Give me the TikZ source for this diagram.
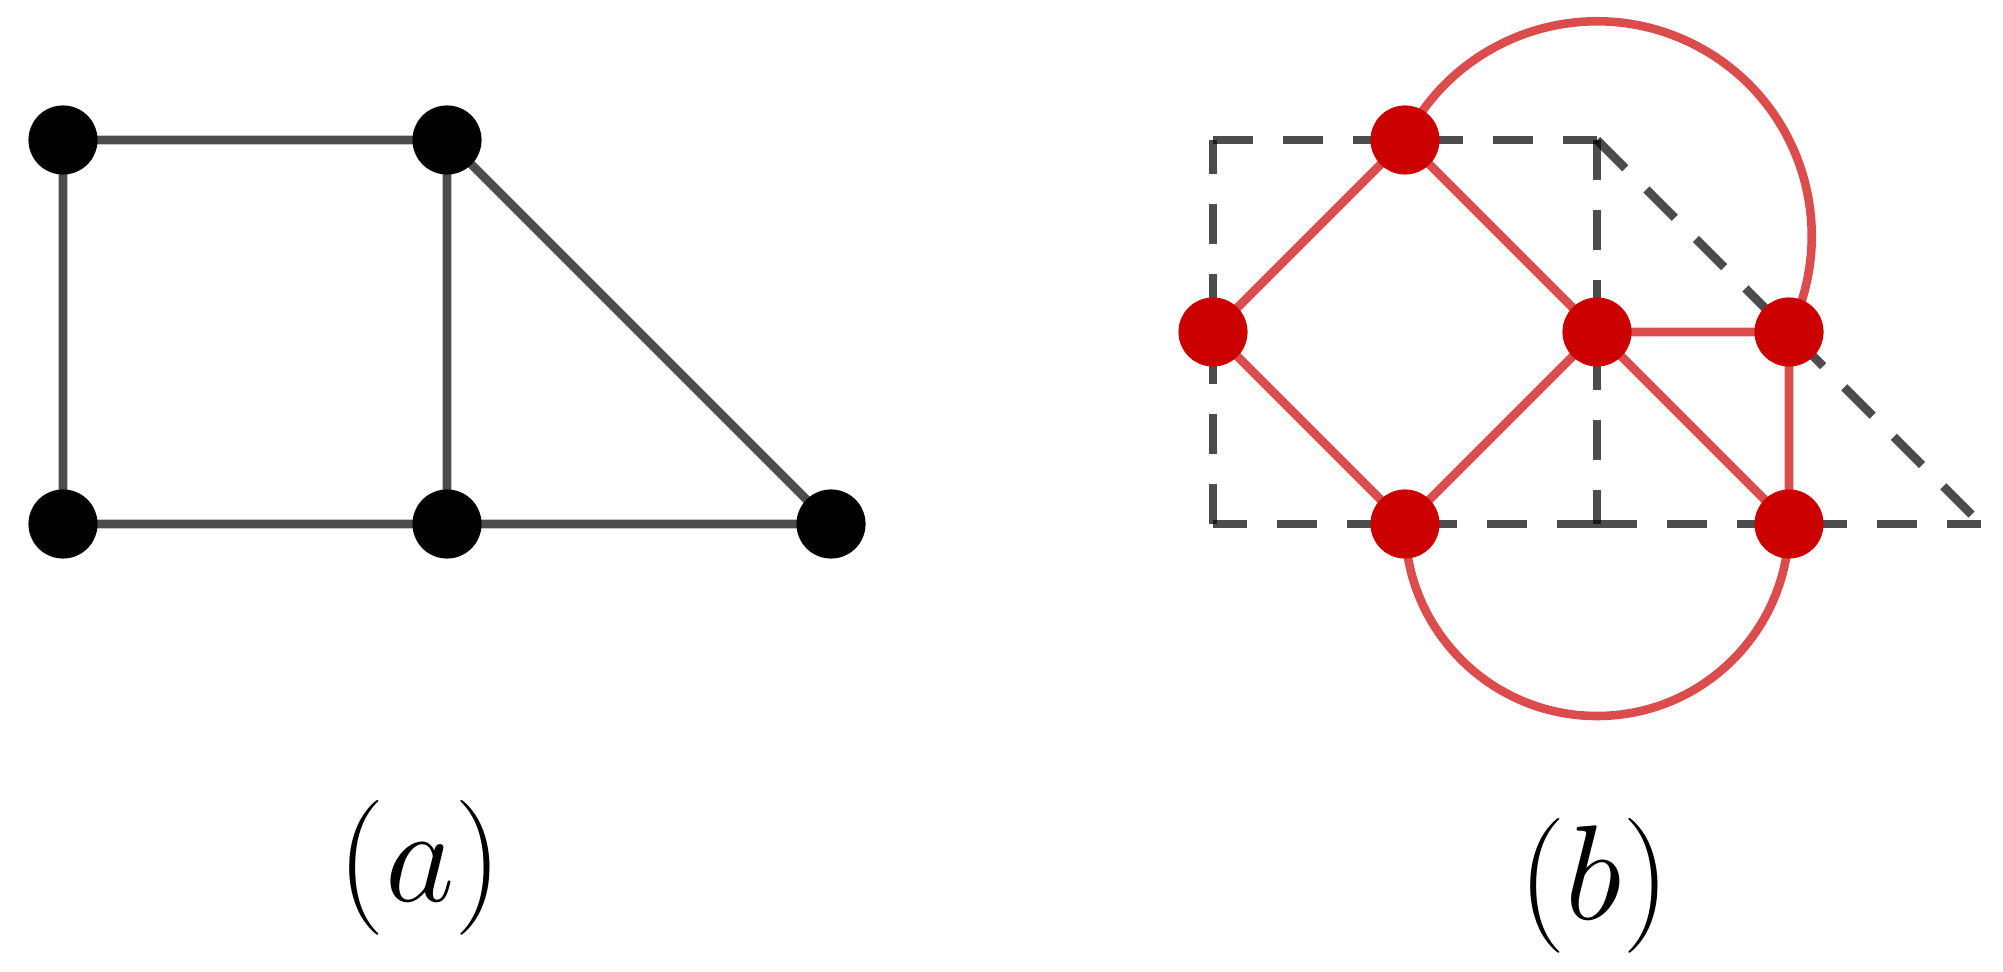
\RequirePackage{fix-cm}
\documentclass[tikz,border=0pt]{standalone}
\begin{document}
\begin{tikzpicture}[x=0.0078125cm,y=-0.0078125cm,
  blk/.style={circle,fill=black,inner sep=0pt,minimum size=0.54cm},
  rdn/.style={circle,fill={rgb,255:red,204;green,0;blue,0},inner sep=0pt,minimum size=0.54cm},
  gedge/.style={draw=black,draw opacity=0.7,line width=0.067cm},
  redge/.style={draw={rgb,255:red,204;green,0;blue,0},draw opacity=0.7,line width=0.067cm},
  dline/.style={draw=black,draw opacity=0.7,line width=0.068cm,dash pattern=on 0.3125cm off 0.234cm},
  lab/.style={anchor=base,inner sep=0pt,font=\fontsize{30}{36}\selectfont}]
\useasboundingbox (0,0) rectangle (2003,972);
% (a)
\coordinate (a1) at (63,140);
\coordinate (a2) at (447,140);
\coordinate (a3) at (63,524);
\coordinate (a4) at (447,524);
\coordinate (a5) at (831,524);
\draw[gedge] (a1) -- (a2) (a1) -- (a3) (a2) -- (a4) (a3) -- (a4) (a4) -- (a5) (a2) -- (a5);
\foreach \n in {a1,a2,a3,a4,a5} \node[blk] (n\n) at (\n) {};
% (b)
\coordinate (r1) at (1213,140);
\coordinate (r2) at (1597,140);
\coordinate (r3) at (1213,524);
\coordinate (r4) at (1597,524);
\coordinate (r5) at (1981,524);
\draw[dline] (r3) -- (r1);
\draw[dline] (r1) -- (r2);
\draw[dline] (r2) -- (r4);
\draw[dline] (r4) -- (r3);
\draw[dline] (r4) -- (r5);
\draw[dline] (r2) -- (r5);
\coordinate (b1) at (1405,140);
\coordinate (b2) at (1213,332);
\coordinate (b3) at (1597,332);
\coordinate (b4) at (1789,332);
\coordinate (b5) at (1405,524);
\coordinate (b6) at (1789,524);
\draw[redge] (b1) -- (b2) (b1) -- (b3) (b2) -- (b5) (b3) -- (b5) (b3) -- (b4) (b3) -- (b6) (b4) -- (b6);
\draw[redge] (b1) arc[start angle=153.435,end angle=-26.565,radius=1.6771cm];
\draw[redge] (b5) arc[start angle=180,end angle=360,radius=1.5cm];
\foreach \n in {b1,b2,b3,b4,b5,b6} \node[rdn] (n\n) at (\n) {};
\node[lab] (la) at (420,901) {$(a)$};
\node[lab] (lb) at (1594,919) {$(b)$};
\end{tikzpicture}
\end{document}
